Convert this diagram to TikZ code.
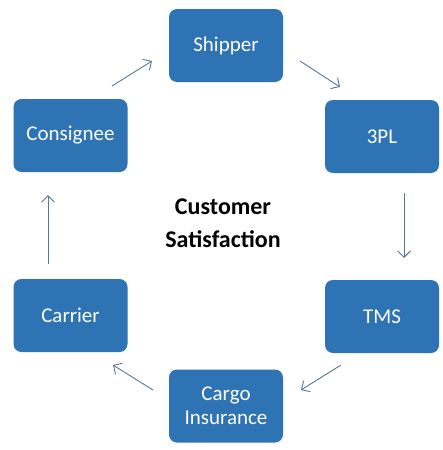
\documentclass[tikz,border=0pt]{standalone}
\usepackage{fontspec}
\setmainfont{Carlito}
\usetikzlibrary{arrows.meta}
\definecolor{boxblue}{RGB}{46,116,181}
\definecolor{arrowc}{RGB}{88,118,148}
\begin{document}
\begin{tikzpicture}[x=1pt,y=-1pt,
 box/.style={draw=none, fill=boxblue, rounded corners=8pt, minimum width=114pt, minimum height=73pt, text=white, font=\fontsize{21}{24}\selectfont, align=center, inner sep=0pt},
 link/.style={draw=arrowc, line width=0.9pt, -{Straight Barb[length=6.5pt,width=13pt]}}]
\useasboundingbox (0,0) rectangle (443,450);
\fill[white] (0,0) rectangle (443,450);
\node[box] (ship) at (226,45.5) {Shipper};
\node[box] (tpl) at (382,136.5) {3PL};
\node[box] (tms) at (382,316.5) {TMS};
\node[box] (cargo) at (226,406) {Cargo\\Insurance};
\node[box] (carr) at (70.5,315.5) {Carrier};
\node[box] (cons) at (70.5,135.5) {Consignee};
\node[font=\bfseries\fontsize{24}{33}\selectfont, align=center] (cs) at (223,223) {Customer\\Satisfaction};
\coordinate (a1s) at (112,86);  \coordinate (a1e) at (152,61);
\coordinate (a2s) at (300,61);  \coordinate (a2e) at (340,87);
\coordinate (a3s) at (404,193); \coordinate (a3e) at (404,258);
\coordinate (a4s) at (341,365); \coordinate (a4e) at (301,390);
\coordinate (a5s) at (153,390); \coordinate (a5e) at (113,365);
\coordinate (a6s) at (48,264);  \coordinate (a6e) at (48,195);
\draw[link] (a1s) -- (a1e);
\draw[link] (a2s) -- (a2e);
\draw[link] (a3s) -- (a3e);
\draw[link] (a4s) -- (a4e);
\draw[link] (a5s) -- (a5e);
\draw[link] (a6s) -- (a6e);
\end{tikzpicture}
\end{document}
